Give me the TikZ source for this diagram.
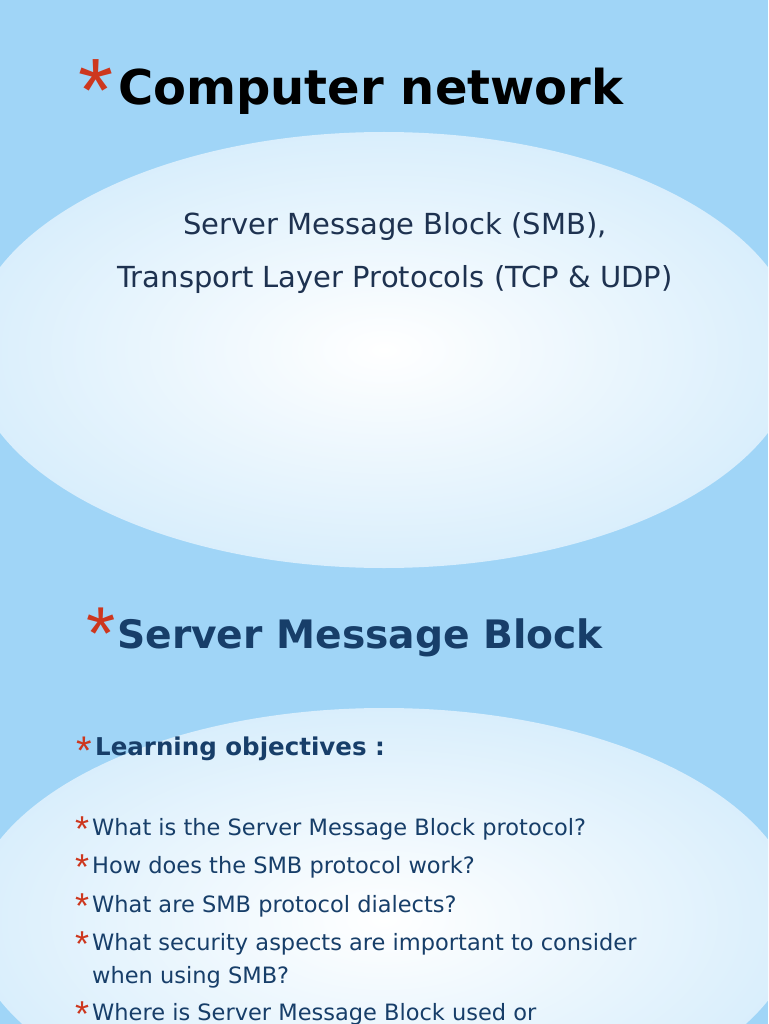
\documentclass[tikz,border=0pt]{standalone}
\usepackage{fontspec}
\setmainfont{DejaVu Sans}
\newfontfamily\astfont{Liberation Sans}
\definecolor{bgblue}{RGB}{160,213,247}
\definecolor{astred}{RGB}{205,55,30}
\definecolor{navy}{RGB}{23,62,105}
\definecolor{subtxt}{RGB}{30,50,80}
\begin{document}
\begin{tikzpicture}[x=1pt,y=-1pt,
  ast/.style={anchor=base west,text=astred,inner sep=0},
  txt/.style={anchor=base west,inner sep=0},
  bul/.style={txt,text=navy,font=\fontsize{22.5}{26}\selectfont}]
\useasboundingbox (0,0) rectangle (768,1024);
% slide 1 background
\fill[bgblue] (0,0) rectangle (768,576);
\begin{scope}
\clip (0,0) rectangle (768,576);
\shade[inner color=white,outer color=bgblue!40] (384,350) ellipse (415 and 218);
\end{scope}
% slide 2 background
\fill[bgblue] (0,576) rectangle (768,1024);
\begin{scope}
\clip (0,576) rectangle (768,1024);
\shade[inner color=white,outer color=bgblue!40] (384,920) ellipse (415 and 212);
\end{scope}
% slide 1 text
\node[ast,font=\astfont\fontsize{90}{90}\selectfont] (a1) at (78,122) {*};
\node[txt,font=\bfseries\fontsize{48}{52}\selectfont] (t1) at (118,105) {Computer network};
\node[anchor=base,inner sep=0,text=subtxt,font=\fontsize{29}{32}\selectfont] (s1) at (395,235) {Server Message Block (SMB),};
\node[anchor=base,inner sep=0,text=subtxt,font=\fontsize{29}{32}\selectfont] (s2) at (395,287) {Transport Layer Protocols (TCP \& UDP)};
% slide 2 text
\node[ast,font=\astfont\fontsize{75}{75}\selectfont] (a2) at (86,659) {*};
\node[txt,text=navy,font=\bfseries\fontsize{39.2}{44}\selectfont] (t2) at (117,648) {Server Message Block};
\node[ast,font=\astfont\fontsize{40}{40}\selectfont] (a3) at (76,764) {*};
\node[txt,text=navy,font=\bfseries\fontsize{24.5}{28}\selectfont] (lo) at (95,755) {Learning objectives :};
\foreach \yy/\tt in {835/What is the Server Message Block protocol?,873/How does the SMB protocol work?,912/What are SMB protocol dialects?,950/What security aspects are important to consider,1020/Where is Server Message Block used or}{
  \node[ast,font=\astfont\fontsize{36}{36}\selectfont] at (75,\yy+6) {*};
  \node[bul] at (92,\yy) {\tt};
}
\node[bul] (b4b) at (92,983) {when using SMB?};
\end{tikzpicture}
\end{document}
